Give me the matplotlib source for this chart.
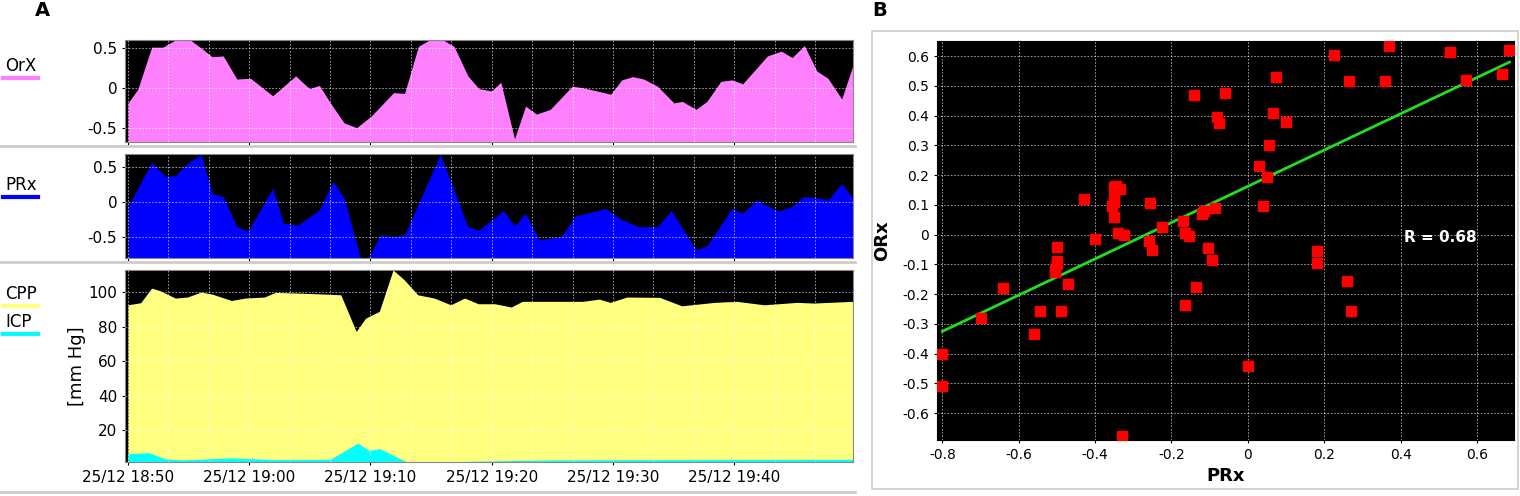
import numpy as np
import matplotlib.pyplot as plt
from matplotlib.patches import Rectangle
from matplotlib.lines import Line2D

# panel A traces, time in minutes after 25/12 18:50
orx_t = [0, 0.8, 1.95, 2.86, 3.9, 5.13, 6.03, 6.94, 7.85, 8.98, 10.1, 11.93, 13.83, 14.96, 15.78, 16.69, 17.82, 18.86, 20.09, 21.9, 22.81, 23.95, 24.85, 25.99, 26.89, 28.03, 28.93, 29.98, 30.75, 31.88, 32.79, 33.7, 34.83, 36.64, 37.55, 38.69, 39.82, 40.73, 41.63, 42.54, 43.67, 45.03, 45.71, 46.85, 47.75, 48.89, 49.8, 50.7, 52.74, 53.88, 54.78, 55.78, 56.82, 57.73, 58.87, 59.77]
orx_v = [-0.19, -0.02, 0.51, 0.51, 0.6, 0.6, 0.5, 0.39, 0.4, 0.11, 0.12, -0.1, 0.15, -0.01, 0.03, -0.19, -0.44, -0.5, -0.35, -0.06, -0.07, 0.52, 0.6, 0.6, 0.52, 0.15, -0.01, -0.04, 0.07, -0.64, -0.23, -0.33, -0.27, 0.02, 0, -0.04, -0.08, 0.1, 0.14, 0.11, 0.02, -0.19, -0.17, -0.27, -0.17, 0.08, 0.1, 0.05, 0.4, 0.46, 0.38, 0.53, 0.21, 0.12, -0.14, 0.27]
prx_t = [0, 1.95, 3.08, 3.9, 4.9, 6.03, 6.94, 7.85, 8.98, 9.89, 11.93, 12.83, 13.97, 15.78, 16.91, 17.82, 19.18, 19.86, 20.77, 21.9, 22.81, 25.76, 28.03, 28.93, 30.98, 31.88, 32.79, 33.92, 35.74, 36.87, 39.37, 40.73, 42.09, 43.67, 44.81, 46.85, 47.75, 49.8, 50.7, 51.84, 53.65, 54.78, 55.69, 57.05, 57.73, 58.87, 59.77]
prx_v = [-0.06, 0.57, 0.37, 0.38, 0.56, 0.68, 0.13, 0.08, -0.35, -0.42, 0.2, -0.3, -0.33, -0.11, 0.3, 0.06, -0.8, -0.8, -0.47, -0.49, -0.47, 0.69, -0.35, -0.4, -0.12, -0.34, -0.16, -0.54, -0.49, -0.2, -0.09, -0.25, -0.35, -0.35, -0.12, -0.68, -0.63, -0.09, -0.16, 0.03, -0.13, -0.06, 0.08, 0.06, 0.03, 0.27, 0.06]
cpp_t = [0, 1.04, 1.95, 2.63, 3.9, 4.9, 6.03, 6.94, 8.53, 9.66, 11.25, 12.15, 13.97, 15.56, 17.55, 18.82, 19.59, 20.73, 21.86, 22.77, 23.9, 25.26, 26.62, 27.76, 28.89, 30.25, 31.61, 32.52, 34.79, 37.51, 38.87, 39.78, 41.14, 43.86, 45.67, 48.39, 50.2, 52.47, 55.19, 56.55, 59.77]
cpp_v = [92.8, 94, 102.5, 101, 96.7, 97.3, 100.2, 99, 95.3, 96.7, 97.3, 100, 99.6, 99.2, 98.6, 77.3, 85, 89, 113, 107.4, 98.6, 96.7, 92.8, 96.7, 93.4, 93.4, 91.5, 94.8, 94.8, 94.8, 96.1, 94.2, 97.3, 97.1, 92.2, 94.2, 94.8, 92.8, 94.2, 93.8, 94.8]
icp_t = [0, 1.72, 3.08, 4.44, 8.53, 12.15, 16.69, 18.96, 19.86, 20.77, 23.04, 25.76, 34.83, 59.77]
icp_v = [6.3, 6.9, 3.3, 2.7, 3.9, 2.9, 3.1, 12.5, 8.2, 9.2, 1.4, 1.6, 2.7, 3.1]
time_ticks = [0, 10, 20, 30, 40, 50]
time_labels = ["25/12 18:50", "25/12 19:00", "25/12 19:10", "25/12 19:20", "25/12 19:30", "25/12 19:40"]

# panel B scatter
prx_pts = [-0.80, -0.80, -0.70, -0.64, -0.56, -0.545, -0.49, -0.47, -0.50, -0.50, -0.50, -0.505, -0.505, -0.43, -0.40, -0.355, -0.35, -0.35, -0.35, -0.345, -0.335, -0.35, -0.34, -0.325, -0.33, -0.255, -0.26, -0.25, -0.225, -0.17, -0.165, -0.155, -0.165, -0.135, -0.14, -0.12, -0.115, -0.105, -0.095, -0.085, -0.08, -0.075, -0.06, 0.0, 0.03, 0.04, 0.05, 0.055, 0.065, 0.075, 0.10, 0.18, 0.18, 0.225, 0.26, 0.265, 0.27, 0.36, 0.37, 0.53, 0.57, 0.665, 0.685]
orx_pts = [-0.40, -0.51, -0.28, -0.18, -0.335, -0.255, -0.255, -0.165, -0.04, -0.09, -0.10, -0.12, -0.125, 0.12, -0.015, 0.095, 0.11, 0.13, 0.16, 0.165, 0.155, 0.06, 0.005, 0.0, -0.675, 0.105, -0.02, -0.05, 0.025, 0.045, 0.005, -0.005, -0.235, -0.175, 0.47, 0.07, 0.08, -0.045, -0.085, 0.09, 0.395, 0.375, 0.475, -0.44, 0.23, 0.095, 0.195, 0.30, 0.41, 0.53, 0.38, -0.055, -0.095, 0.605, -0.155, 0.515, -0.255, 0.515, 0.635, 0.615, 0.52, 0.54, 0.62]
fit_x = [-0.80, 0.685]
fit_y = [-0.325, 0.58]

fig = plt.figure(figsize=(15.2, 4.96), dpi=100)
W, H = 1520, 496

def pax(x0, y0, x1, y1):
    return fig.add_axes([x0 / W, 1 - y1 / H, (x1 - x0) / W, (y1 - y0) / H])

tmax = 59.8
def style_a(ax):
    ax.set_facecolor("black")
    ax.set_xlim(-0.25, tmax)
    ax.set_xticks(np.arange(0, tmax, 10 / 3), minor=True)
    ax.grid(True, which="minor", axis="x", color="white", ls=(0, (2, 2)), lw=0.6, alpha=0.7)
    ax.grid(True, which="major", color="white", ls=(0, (2, 2)), lw=0.6, alpha=0.7)
    ax.tick_params(labelsize=11, length=2, which="both")
    ax.tick_params(which="minor", length=0)
    for s in ax.spines.values():
        s.set_color("#888888")

ax1 = pax(125, 40, 853, 142)
ax1.fill_between(orx_t, orx_v, -1, color="#ff80ff", lw=0)
ax1.set_ylim(-0.68, 0.6)
ax1.set_yticks([-0.5, 0, 0.5], ["-0.5", "0", "0.5"])
style_a(ax1)
ax1.set_xticks(time_ticks, [])

ax2 = pax(125, 154, 853, 258)
ax2.fill_between(prx_t, prx_v, -1, color="#0000ff", lw=0)
ax2.set_ylim(-0.8, 0.69)
ax2.set_yticks([-0.5, 0, 0.5], ["-0.5", "0", "0.5"])
style_a(ax2)
ax2.set_xticks(time_ticks, [])

ax3 = pax(125, 270, 853, 462)
ax3.fill_between(cpp_t, cpp_v, 0, color="#ffff80", lw=0)
ax3.fill_between(icp_t, icp_v, 0, color="#00ffff", lw=0)
ax3.set_ylim(1.5, 113)
ax3.set_yticks([20, 40, 60, 80, 100])
style_a(ax3)
ax3.set_xticks(time_ticks, time_labels)
ax3.set_ylabel("[mm Hg]", fontsize=13, labelpad=2)

# left labels
def side_label(y, text, color):
    fig.text(5 / W, 1 - y / H, text, fontsize=12, va="center", ha="left")
    fig.add_artist(Line2D([3 / W, 38 / W], [1 - (y + 12) / H] * 2, color=color, lw=3))
side_label(66, "OrX", "#ff80ff")
side_label(185, "PRx", "#0000ff")
side_label(294, "CPP", "#ffff80")
side_label(322, "ICP", "#00ffff")
for y in (146, 262, 492):
    fig.add_artist(Line2D([0, 855 / W], [1 - y / H] * 2, color="#cccccc", lw=2))
fig.text(35 / W, 1 - 10 / H, "A", fontsize=14, fontweight="bold", va="center")
fig.text(872 / W, 1 - 10 / H, "B", fontsize=14, fontweight="bold", va="center")
fig.add_artist(Rectangle((872 / W, 7 / H), 646 / W, 458 / H, fill=False, ec="#cccccc", lw=1.2))

axb = pax(937, 41, 1514, 440)
axb.set_facecolor("black")
axb.plot(fit_x, fit_y, color="#22dd22", lw=2)
axb.scatter(prx_pts, orx_pts, marker="s", s=55, color="#ff0000", zorder=3)
axb.set_xlim(-0.814, 0.697)
axb.set_ylim(-0.69, 0.651)
axb.set_xticks(np.arange(-0.8, 0.61, 0.2), ["-0.8", "-0.6", "-0.4", "-0.2", "0", "0.2", "0.4", "0.6"])
axb.set_yticks(np.arange(-0.6, 0.61, 0.1),
               ["-0.6", "-0.5", "-0.4", "-0.3", "-0.2", "-0.1", "0", "0.1", "0.2", "0.3", "0.4", "0.5", "0.6"])
axb.grid(True, color="white", ls=(0, (2, 2)), lw=0.6, alpha=0.7)
axb.tick_params(labelsize=10, length=2)
axb.set_xlabel("PRx", fontsize=13, fontweight="bold", labelpad=4)
axb.set_ylabel("ORx", fontsize=13, fontweight="bold", labelpad=8)
axb.text(0.41, -0.01, "R = 0.68", color="white", fontsize=11, fontweight="bold", va="center")

fig.savefig("out.png")
